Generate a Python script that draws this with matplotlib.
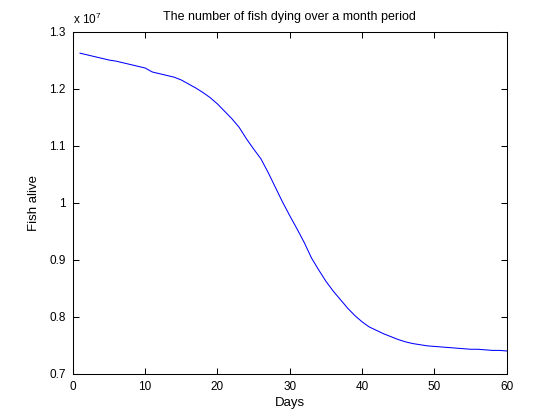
import matplotlib.pyplot as plt
from matplotlib.ticker import FuncFormatter

plt.rcParams['font.family'] = ['Liberation Sans', 'DejaVu Sans']
plt.rcParams['mathtext.fontset'] = 'custom'
plt.rcParams['mathtext.rm'] = 'Liberation Sans'

# days of the month
days = list(range(1, 61))

# fish alive, in units of 10^7
fish_alive = [1.262, 1.259, 1.256, 1.253, 1.250, 1.248, 1.245, 1.242, 1.239, 1.236,
              1.229, 1.226, 1.223, 1.220, 1.215, 1.208, 1.201, 1.193, 1.184, 1.173,
              1.160, 1.147, 1.132, 1.112, 1.094, 1.077, 1.053, 1.027, 1.001, 0.977,
              0.954, 0.930, 0.903, 0.882, 0.862, 0.845, 0.830, 0.815, 0.802, 0.791,
              0.782, 0.776, 0.770, 0.765, 0.760, 0.756, 0.753, 0.751, 0.749, 0.748,
              0.747, 0.746, 0.745, 0.744, 0.743, 0.743, 0.742, 0.741, 0.741, 0.740]

x_ticks = [0, 10, 20, 30, 40, 50, 60]
y_ticks = [0.7, 0.8, 0.9, 1.0, 1.1, 1.2, 1.3]

fig = plt.figure(figsize=(5.6, 4.2), dpi=100)
ax = fig.add_axes([0.13, 0.11, 0.775, 0.815])

ax.plot(days, fish_alive, color='#0000ff', linewidth=0.75)

ax.set_xlim(0, 60)
ax.set_ylim(0.7, 1.3)
ax.set_xticks(x_ticks)
ax.set_yticks(y_ticks)
ax.yaxis.set_major_formatter(FuncFormatter(lambda v, p: '%g' % round(v, 2)))
ax.tick_params(direction='in', top=True, right=True, length=4, width=0.75,
               labelsize=8.5, pad=5)
for s in ax.spines.values():
    s.set_linewidth(0.75)

ax.set_title('The number of fish dying over a month period', fontsize=9, pad=8)
ax.set_xlabel('Days', fontsize=9.5, labelpad=3)
ax.set_ylabel('Fish alive', fontsize=9.5, labelpad=7)
ax.text(0.0, 1.012, 'x 10$^{7}$', transform=ax.transAxes, fontsize=8.5,
        ha='left', va='bottom')

fig.savefig('out.png', dpi=100)
